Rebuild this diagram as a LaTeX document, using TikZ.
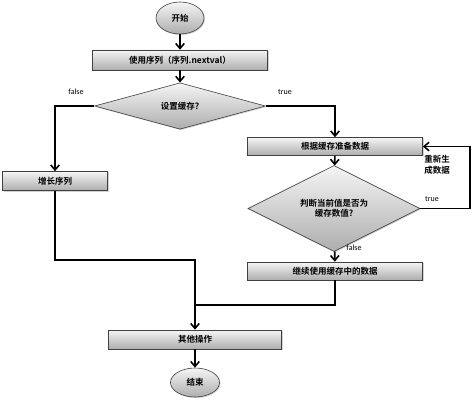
\documentclass[tikz,border=0pt]{standalone}
\usepackage{fontspec}
\setmainfont{Carlito}
\newfontfamily\cjk{Noto Sans CJK SC Bold}
\usetikzlibrary{shapes.geometric,arrows.meta,shadows}
\begin{document}
\begin{tikzpicture}[x=1pt,y=-1pt,
  base/.style={draw=black!75, line width=0.6pt, top color=black!4, bottom color=black!32,
    inner sep=0pt, font=\cjk\fontsize{8.5}{10}\selectfont,
    drop shadow={shadow xshift=1pt, shadow yshift=-1pt, opacity=0.35}},
  procbox/.style={base, rectangle, minimum height=19pt},
  decbox/.style={base, diamond},
  termbox/.style={base, ellipse},
  arr/.style={line width=1.6pt, -{Straight Barb[length=5pt,width=8.5pt,line width=1.6pt]}},
  seg/.style={line width=1.6pt},
  lbl/.style={font=\fontsize{8}{9}\selectfont, inner sep=1pt},
  cjklbl/.style={font=\cjk\fontsize{8.5}{11}\selectfont, align=center, inner sep=0pt}
]
\useasboundingbox (0,0) rectangle (474,401);
\node[termbox, minimum width=48pt, minimum height=32pt] (start) at (180,18) {开始};
\node[procbox, minimum width=175pt, minimum height=20pt] (seq) at (180,60) {使用序列（序列.nextval）};
\node[decbox, minimum width=171pt, minimum height=34pt] (d1) at (180,106) {设置缓存?};
\node[procbox, minimum width=105pt] (inc) at (55,181) {增长序列};
\node[procbox, minimum width=175pt, minimum height=18pt] (prep) at (335,146.5) {根据缓存准备数据};
\node[decbox, minimum width=172pt, minimum height=47pt, align=center] (d2) at (334,208.5) {判断当前值是否为\\缓存数值?};
\node[procbox, minimum width=175pt, minimum height=18pt] (cont) at (335,271) {继续使用缓存中的数据};
\node[procbox, minimum width=173pt] (other) at (195,339.5) {其他操作};
\node[termbox, minimum width=49pt, minimum height=29pt] (end) at (195,382.5) {结束};

\coordinate (loop) at (470,208.5);
\coordinate (j1) at (195,260);
\coordinate (j2) at (195,305);

\draw[arr] (start) -- (seq);
\draw[arr] (seq) -- (d1);
\draw[arr] (d1.west) -| (inc.north);
\draw[arr] (d1.east) -| (prep.north);
\draw[arr] (prep) -- (d2);
\draw[arr] (d2.east) -- (loop) |- (prep.east);
\draw[arr] (d2) -- (cont);
\draw[arr] (inc.south) |- (j1) -- (other.north);
\draw[seg] (cont.south) |- (j2);
\draw[arr] (other) -- (end);

\node[lbl] (lfalse) at (76,92) {false};
\node[lbl] (ltrue) at (285,92) {true};
\node[lbl] (ltrue2) at (432,199) {true};
\node[lbl] (lfalse2) at (354,248) {false};
\node[cjklbl] (regen) at (437,164.5) {重新生\\成数据};
\end{tikzpicture}
\end{document}
